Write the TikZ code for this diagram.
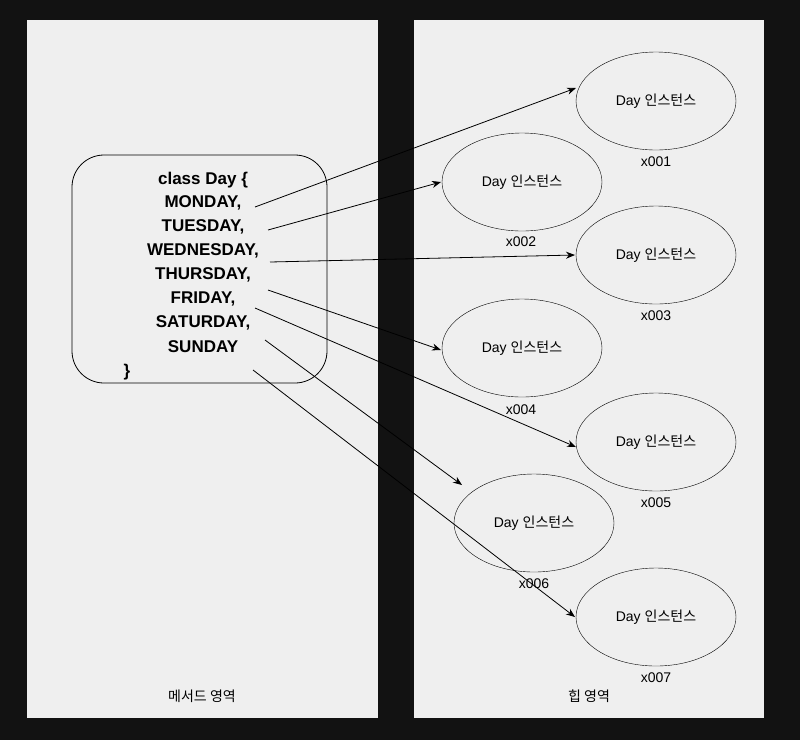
\documentclass[tikz,border=0pt]{standalone}
\usepackage{fontspec}
\setmainfont{Liberation Sans}
\newfontfamily\kr{Noto Sans CJK KR}
\usetikzlibrary{arrows.meta,shapes.geometric}
\definecolor{bgdark}{HTML}{121212}
\definecolor{panel}{HTML}{EFEFEF}
\begin{document}
\begin{tikzpicture}[x=1pt,y=-1pt,
  inst/.style={draw,ellipse,minimum width=160pt,minimum height=98pt,font=\fontsize{14}{16}\selectfont},
  addr/.style={font=\fontsize{14}{16}\selectfont},
  enm/.style={font=\bfseries\fontsize{17}{20}\selectfont},
  arr/.style={-{Stealth[length=9pt,width=7pt]},line width=0.8pt}]
\fill[bgdark] (0,0) rectangle (800,740);
\useasboundingbox (0,0) rectangle (800,740);
\fill[panel] (27,20) rectangle (378,718);
\fill[panel] (414,20) rectangle (764,718);
\node[draw,line width=0.8pt,rounded corners=32pt,minimum width=255pt,minimum height=228pt] (cls) at (199.5,269) {};
\node[enm] (t0) at (203,180) {class Day \{};
\node[enm] (t1) at (203,203) {MONDAY,};
\node[enm] (t2) at (203,227) {TUESDAY,};
\node[enm] (t3) at (203,251) {WEDNESDAY,};
\node[enm] (t4) at (203,275) {THURSDAY,};
\node[enm] (t5) at (203,299) {FRIDAY,};
\node[enm] (t6) at (203,323) {SATURDAY,};
\node[enm] (t7) at (203,347) {SUNDAY};
\node[enm] (t8) at (127,372) {\}};
\node[inst] (e1) at (656,101) {Day {\kr 인스턴스}};
\node[inst] (e2) at (522,182) {Day {\kr 인스턴스}};
\node[inst] (e3) at (656,255) {Day {\kr 인스턴스}};
\node[inst] (e4) at (522,348) {Day {\kr 인스턴스}};
\node[inst] (e5) at (656,442) {Day {\kr 인스턴스}};
\node[inst] (e6) at (534,523) {Day {\kr 인스턴스}};
\node[inst] (e7) at (656,617) {Day {\kr 인스턴스}};
\node[addr] (a1) at (656,162) {x001};
\node[addr] (a2) at (521,242) {x002};
\node[addr] (a3) at (656,316) {x003};
\node[addr] (a4) at (521,410) {x004};
\node[addr] (a5) at (656,503) {x005};
\node[addr] (a6) at (534,584) {x006};
\node[addr] (a7) at (656,678) {x007};
\coordinate (s1) at (255,207);
\coordinate (s2) at (268,230);
\coordinate (s3) at (270,262);
\coordinate (s4) at (268,290);
\coordinate (s5) at (255,308);
\coordinate (s6) at (265,340);
\coordinate (s7) at (253,370);
\coordinate (g1) at (576,88);
\coordinate (g2) at (441,182);
\coordinate (g3) at (575,255);
\coordinate (g4) at (441,350);
\coordinate (g5) at (576,447);
\coordinate (g6) at (462,485);
\coordinate (g7) at (575,617);
\foreach \i in {1,...,7} \draw[arr] (s\i) -- (g\i);
\node[font=\kr\fontsize{14}{16}\selectfont] (l1) at (202,696) {메서드 영역};
\node[font=\kr\fontsize{14}{16}\selectfont] (l2) at (589,696) {힙 영역};
\end{tikzpicture}
\end{document}
